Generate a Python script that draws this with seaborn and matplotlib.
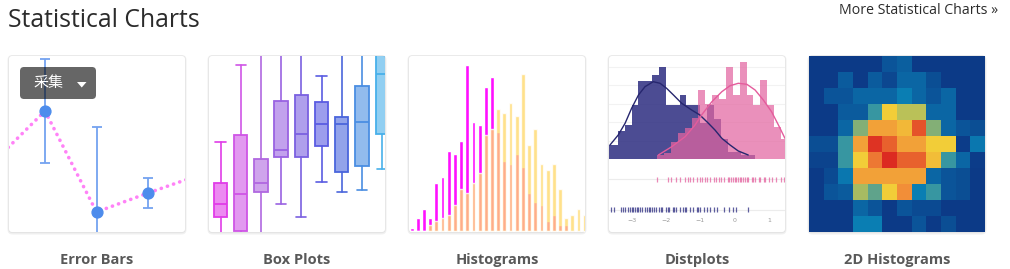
import numpy as np
import matplotlib
matplotlib.use("Agg")
import matplotlib.pyplot as plt
import matplotlib.colors as mcolors
import seaborn as sns
from matplotlib.patches import FancyBboxPatch, Polygon
from matplotlib.colors import LinearSegmentedColormap

# ---------------- data ----------------
page_title = "Statistical Charts"
more_link = "More Statistical Charts »"
panel_titles = ["Error Bars", "Box Plots", "Histograms", "Distplots", "2D Histograms"]
button_label = "采集"

# Error bars
err_x = [0, 1, 2, 3, 4]
err_y = [7.0, 12.1, 2.0, 3.9, 5.7]
err_e = [1.0, 5.2, 8.5, 1.5, 1.0]

# Box plots (nine boxes)
box_whislo = [-1.0, -1.5, -1.5, 1.59, 0.87, 2.84, 2.29, 2.40, 3.58]
box_q1 = [0.85, 0.07, 2.29, 4.24, 4.24, 4.90, 3.43, 3.75, 5.59]
box_med = [1.59, 2.14, 2.78, 4.68, 5.55, 6.15, 6.15, 6.25, 8.96]
box_q3 = [2.80, 5.53, 4.16, 7.43, 7.78, 7.37, 6.51, 8.31, 10.6]
box_whishi = [5.10, 9.51, 11.0, 11.0, 11.0, 8.86, 11.0, 11.0, 12.0]

# Overlaid histograms (counts per bin)
hist_magenta = [1, 4, 7, 4, 15, 17, 25, 24, 28, 52, 34, 33, 45, 48, 31, 22, 21, 24, 20,
                12, 9, 8, 3, 5, 2, 2, 0, 0, 0]
hist_yellow = [0, 0, 0, 2, 3, 4, 5, 8, 13, 12, 15, 18, 30, 32, 38, 37, 40, 36, 49,
               27, 32, 21, 19, 21, 13, 4, 5, 7, 5]

# Distplot: histogram bins, kde curves, rug values
navy_edges = [-3.8, -3.6, -3.4, -3.2, -3.0, -2.8, -2.6, -2.4, -2.2, -2.0, -1.8, -1.6,
              -1.4, -1.2, -1.0, -0.8, -0.6, -0.4, -0.2, 0.0, 0.2, 0.4, 0.6]
navy_h = [1.4, 1.4, 2.8, 3.4, 5.4, 7.8, 7.8, 8.4, 9.2, 5.4, 5.4, 6.4, 5.4, 5.4, 3.6,
          5.4, 4.0, 2.0, 0.7, 0.7, 0.4, 0.4]
pink_edges = [-2.25, -2.05, -1.85, -1.65, -1.45, -1.25, -1.05, -0.85, -0.65, -0.45,
              -0.25, -0.05, 0.15, 0.35, 0.55, 0.75, 0.95, 1.15, 1.35, 1.55]
pink_h = [0.4, 0.6, 1.7, 2.6, 3.1, 4.1, 6.9, 5.5, 6.4, 6.0, 9.2, 6.4, 9.7, 6.4, 5.4,
          7.9, 5.4, 3.2, 2.0]
navy_kde_x = [-3.63, -3.39, -3.19, -3.0, -2.80, -2.61, -2.37, -2.17, -1.98, -1.78,
              -1.54, -1.25, -1.01, -0.76, -0.57, -0.37, -0.13, 0.11, 0.40]
navy_kde_y = [1.43, 2.43, 3.6, 5.1, 6.43, 7.26, 7.76, 7.6, 7.1, 6.43, 5.6, 4.93, 4.43,
              3.6, 2.93, 2.1, 1.43, 0.83, 0.43]
pink_kde_x = [-2.22, -1.83, -1.44, -1.15, -0.96, -0.66, -0.37, -0.13, 0.11, 0.36,
              0.60, 0.84, 1.08, 1.28, 1.47]
pink_kde_y = [0.43, 1.26, 2.26, 3.43, 4.43, 5.76, 6.76, 7.36, 7.6, 7.5, 6.93, 5.93,
              4.76, 3.43, 2.1]
navy_rug = [-3.6, -3.5, -3.3, -3.25, -3.2, -3.1, -3.05, -3.0, -2.95, -2.9, -2.85, -2.8,
            -2.75, -2.7, -2.6, -2.55, -2.5, -2.45, -2.4, -2.35, -2.3, -2.2, -2.15, -2.1,
            -2.0, -1.95, -1.9, -1.8, -1.75, -1.7, -1.6, -1.5, -1.45, -1.4, -1.3, -1.2,
            -1.1, -1.05, -1.0, -0.9, -0.8, -0.7, -0.6, -0.5, -0.3, -0.15, -0.05, 0.05, 0.4]
pink_rug = [-2.25, -1.95, -1.85, -1.7, -1.6, -1.45, -1.35, -1.3, -1.2, -1.1, -1.0, -0.95,
            -0.85, -0.8, -0.7, -0.6, -0.55, -0.45, -0.4, -0.3, -0.2, -0.15, -0.1, -0.05,
            0.0, 0.05, 0.1, 0.15, 0.2, 0.25, 0.3, 0.35, 0.4, 0.5, 0.55, 0.6, 0.7, 0.75,
            0.85, 0.9, 1.0, 1.1, 1.2, 1.35, 1.45]
dist_ticks = [-3, -2, -1, 0, 1]
dist_tick_labels = ["−3", "−2", "−1", "0", "1"]

# 2D histogram (normalised counts, rows top -> bottom)
hist2d = [
    [0.02, 0.02, 0.02, 0.02, 0.02, 0.10, 0.13, 0.02, 0.02, 0.02, 0.02, 0.02],
    [0.02, 0.02, 0.12, 0.02, 0.12, 0.06, 0.15, 0.15, 0.08, 0.02, 0.02, 0.02],
    [0.02, 0.10, 0.10, 0.15, 0.15, 0.15, 0.22, 0.15, 0.10, 0.15, 0.02, 0.02],
    [0.02, 0.02, 0.12, 0.12, 0.30, 0.52, 0.44, 0.44, 0.15, 0.15, 0.02, 0.02],
    [0.02, 0.02, 0.15, 0.38, 0.68, 0.68, 0.60, 0.88, 0.38, 0.15, 0.10, 0.08],
    [0.08, 0.08, 0.30, 0.68, 0.95, 0.85, 0.68, 0.68, 0.52, 0.52, 0.03, 0.20],
    [0.05, 0.05, 0.30, 0.52, 0.80, 0.97, 0.85, 0.85, 0.58, 0.30, 0.15, 0.03],
    [0.02, 0.07, 0.20, 0.68, 0.68, 0.68, 0.68, 0.68, 0.15, 0.10, 0.08, 0.02],
    [0.02, 0.10, 0.12, 0.42, 0.34, 0.52, 0.75, 0.22, 0.30, 0.10, 0.08, 0.02],
    [0.02, 0.02, 0.02, 0.15, 0.10, 0.02, 0.10, 0.07, 0.07, 0.02, 0.02, 0.02],
    [0.02, 0.02, 0.02, 0.22, 0.22, 0.02, 0.02, 0.10, 0.02, 0.08, 0.02, 0.02],
]

# ---------------- style ----------------
sns.set_theme(style="white")
plt.rcParams["font.family"] = ["Open Sans", "DejaVu Sans"]

W, H = 1010, 269
fig = plt.figure(figsize=(W / 100, H / 100), dpi=100)
fig.patch.set_facecolor("white")


def fx(x):
    return x / W


def fy(y):
    return 1 - y / H


# background layer (pixel coordinates)
bg = fig.add_axes([0, 0, 1, 1], zorder=0)
bg.set_xlim(0, W)
bg.set_ylim(H, 0)
bg.axis("off")

CARD = 176
TOP = 56
card_x = [9 + 200 * i for i in range(5)]
for x0 in card_x:
    bg.add_patch(FancyBboxPatch((x0 - 1.5, TOP - 1.0), CARD + 3, CARD + 3.5,
                                boxstyle="round,pad=0,rounding_size=5",
                                fc="#f1f1f1", ec="none"))
    bg.add_patch(FancyBboxPatch((x0 - 0.7, TOP - 0.5), CARD + 1.4, CARD + 1.6,
                                boxstyle="round,pad=0,rounding_size=4",
                                fc="#e4e4e4", ec="none"))
    bg.add_patch(FancyBboxPatch((x0, TOP), CARD, CARD,
                                boxstyle="round,pad=0,rounding_size=3",
                                fc="white", ec="none"))


def card_axes(i):
    ax = fig.add_axes([fx(card_x[i]), fy(TOP + CARD), CARD / W, CARD / H], zorder=1)
    ax.patch.set_alpha(0)
    return ax


# ---- 1. Error bars ----
ax1 = card_axes(0)
sns.lineplot(x=err_x, y=err_y, ax=ax1, color="#ff82f7", lw=2.6,
             linestyle=(0, (0.05, 1.75)), dash_capstyle="round", zorder=2)
ax1.errorbar(err_x, err_y, yerr=err_e, fmt="o", color="#4d8cec", ecolor="#74a3f0",
             elinewidth=1.3, capsize=3.3, capthick=1.3, markersize=7.8, zorder=3)
ax1.set_xlim(0.301, 3.718)
ax1.set_ylim(0, 17.6)
ax1.set_axis_off()

# ---- 2. Box plots ----
ax2 = card_axes(1)
box_colors = ["#e03ce8", "#cf55e6", "#b068e0", "#9a62e2", "#7a60e0", "#5a5ce2",
              "#4a66dc", "#4a8ee2", "#48b0ea"]
stats = [dict(med=m, q1=a, q3=b, whislo=lo, whishi=hi, fliers=[])
         for lo, a, m, b, hi in zip(box_whislo, box_q1, box_med, box_q3, box_whishi)]
bp = ax2.bxp(stats, positions=list(range(len(stats))), widths=0.66, patch_artist=True,
             showfliers=False, capwidths=0.5, manage_ticks=False)
for i, c in enumerate(box_colors):
    bp["boxes"][i].set(facecolor=mcolors.to_rgba(c, 0.6), edgecolor=c, linewidth=1.3)
    bp["medians"][i].set(color=c, linewidth=1.3)
    for w in bp["whiskers"][2 * i:2 * i + 2]:
        w.set(color=c, linewidth=1.2)
    for cp in bp["caps"][2 * i:2 * i + 2]:
        cp.set(color=c, linewidth=1.2)
ax2.set_xlim(-0.57, 8.14)
ax2.set_ylim(0, 10)
ax2.set_axis_off()

# ---- 3. Histograms ----
ax3 = card_axes(2)
idx = np.arange(len(hist_magenta))
ax3.bar(idx, hist_magenta, width=0.62, color="#ff10ff", zorder=2)
ax3.bar(idx, hist_yellow, width=0.62, color=(1.0, 0.85, 0.42), alpha=0.78, zorder=3)
ax3.set_xlim(-0.43, 28.04)
ax3.set_ylim(-0.3, 54.7)
ax3.set_axis_off()

# ---- 4. Distplot ----
ax4 = card_axes(3)
for gy in [9.2, 7.4, 5.5, 3.7, 1.8]:
    ax4.axhline(gy, color="#f2f2f2", lw=0.8, zorder=0)
for gy in [-2.0, -5.05]:
    ax4.axhline(gy, color="#ececec", lw=0.8, zorder=0)
ax4.stairs(navy_h, navy_edges, fill=True, color=(0.22, 0.22, 0.53), alpha=0.9, zorder=2)
ax4.stairs(pink_h, pink_edges, fill=True, color=(0.89, 0.40, 0.63), alpha=0.72, zorder=3)
sns.lineplot(x=navy_kde_x, y=navy_kde_y, ax=ax4, color="#26266e", lw=1.0, zorder=4)
sns.lineplot(x=pink_kde_x, y=pink_kde_y, ax=ax4, color="#e45c9c", lw=1.0, zorder=4)
ax4.vlines(navy_rug, -5.3, -4.8, color="#2a2a80", lw=0.9, alpha=0.75, zorder=3)
ax4.vlines(pink_rug, -2.25, -1.75, color="#e4609e", lw=0.9, alpha=0.75, zorder=3)
for t, lab in zip(dist_ticks, dist_tick_labels):
    ax4.text(t, -6.1, lab, ha="center", va="center", fontsize=4.5, color="#9a9a9a",
             family=["DejaVu Sans"])
ax4.set_xlim(-3.659, 1.472)
ax4.set_ylim(-7.27, 10.33)
ax4.set_axis_off()

# ---- 5. 2D histogram ----
ax5 = card_axes(4)
portland = LinearSegmentedColormap.from_list(
    "portland",
    [(0.0, (12 / 255, 51 / 255, 131 / 255)), (0.25, (10 / 255, 136 / 255, 186 / 255)),
     (0.5, (242 / 255, 211 / 255, 56 / 255)), (0.75, (242 / 255, 143 / 255, 56 / 255)),
     (1.0, (217 / 255, 30 / 255, 30 / 255))])
sns.heatmap(np.array(hist2d), ax=ax5, cmap=portland, vmin=0, vmax=1, cbar=False,
            xticklabels=False, yticklabels=False, linewidths=0)
ax5.set_axis_off()

# ---- overlay: the "采集" button ----
ov = fig.add_axes([0, 0, 1, 1], zorder=5)
ov.set_xlim(0, W)
ov.set_ylim(H, 0)
ov.axis("off")
ov.patch.set_alpha(0)
ov.add_patch(FancyBboxPatch((20, 67), 76, 32, boxstyle="round,pad=0,rounding_size=4",
                            fc=(0, 0, 0, 0.6), ec="none"))
ov.text(48, 83.5, button_label, ha="center", va="center", color="white", fontsize=10.8,
        family=["Noto Sans CJK SC", "DejaVu Sans"])
ov.add_patch(Polygon([(77, 82), (86.5, 82), (81.75, 87.5)], closed=True, fc="white",
                     ec="none"))

# ---- texts ----
fig.text(fx(8), fy(27), page_title, fontsize=17.8, color="#2b2b2b", va="baseline",
         ha="left")
fig.text(fx(998.5), fy(14), more_link, fontsize=10.2, color="#2b2b2b", va="baseline",
         ha="right")
for i, t in enumerate(panel_titles):
    fig.text(fx(card_x[i] + CARD / 2), fy(264), t, fontsize=10.5, fontweight="bold",
             color="#595959", ha="center", va="baseline")

fig.savefig("out.png", dpi=100, facecolor="white")
